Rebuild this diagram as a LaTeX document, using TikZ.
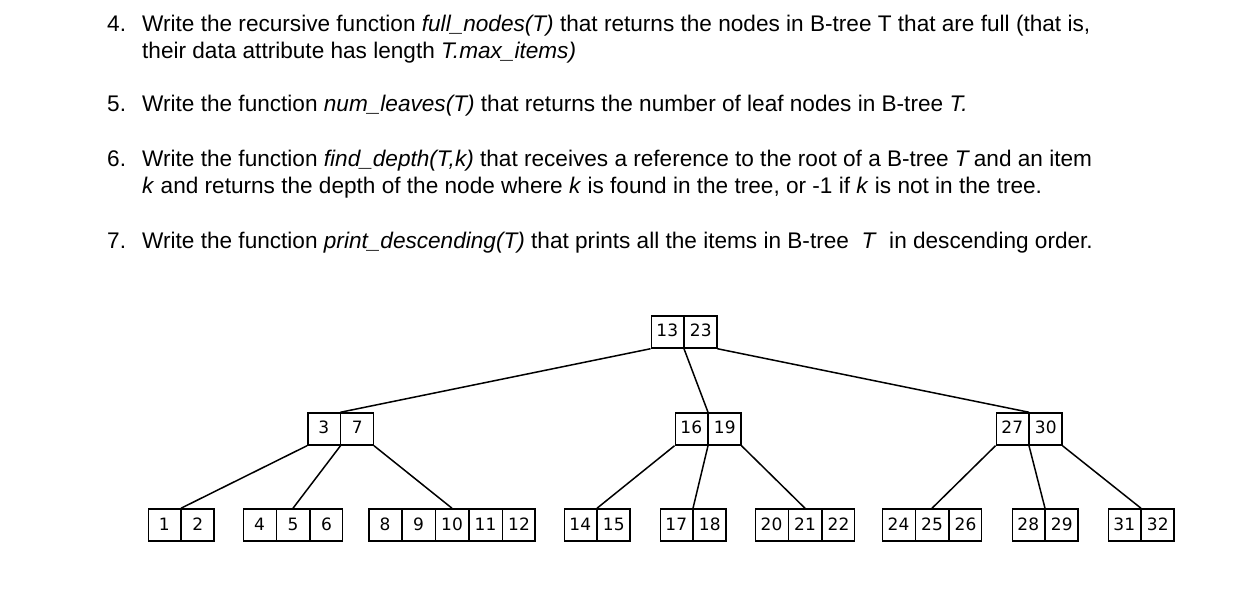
\documentclass[tikz,border=0pt]{standalone}
\usepackage{fontspec}
\setmainfont{Liberation Sans}
\newfontfamily\treefont{DejaVu Sans}
\usetikzlibrary{positioning,shapes.multipart}
\tikzset{bt/.style={rectangle split, rectangle split horizontal, draw=black, line width=1.5pt, inner xsep=0pt, inner ysep=0pt, minimum height=32pt, font=\treefont\fontsize{17}{17}\selectfont}}
\tikzset{txt/.style={anchor=base west, inner sep=0pt, font=\fontsize{22.6}{26}\selectfont}}
\tikzset{bline/.style={-, line width=1.5pt}}
\newcommand{\cell}[1]{\makebox[32pt]{\rule[-9pt]{0pt}{28pt}#1}}
\begin{document}
\begin{tikzpicture}[x=1pt,y=-1pt]
\useasboundingbox (0,0) rectangle (1245,601);
% questions
\node (q4n) [txt] at (107,32) {4.};
\node (q4) [txt] at (142,32) {Write the recursive function \textit{full\_nodes(T)} that returns the nodes in B-tree T that are full (that is,};
\node (q4b) [txt] at (142,59) {their data attribute has length \textit{T.max\_items)}};
\node (q5n) [txt] at (107,112) {5.};
\node (q5) [txt] at (142,112) {Write the function \textit{num\_leaves(T)} that returns the number of leaf nodes in B-tree \textit{T.}};
\node (q6n) [txt] at (107,167) {6.};
\node (q6) [txt] at (142,167) {Write the function \textit{find\_depth(T,k)} that receives a reference to the root of a B-tree \textit{T}\,and an item};
\node (q6b) [txt] at (142,194) {\textit{k} and returns the depth of the node where \textit{k} is found in the tree, or -1 if \textit{k} is not in the tree.};
\node (q7n) [txt] at (107,249) {7.};
\node (q7) [txt] at (142,249) {Write the function \textit{print\_descending(T)} that prints all the items in B-tree \ \textit{T} \ in descending order.};
% b-tree
\node (root) [bt, rectangle split parts=2] at (684,332) {\cell{13}\nodepart{two}\cell{23}};
\node (A) [bt, rectangle split parts=2] at (340.5,429) {\cell{3}\nodepart{two}\cell{7}};
\node (B) [bt, rectangle split parts=2] at (708,429) {\cell{16}\nodepart{two}\cell{19}};
\node (C) [bt, rectangle split parts=2] at (1029,429) {\cell{27}\nodepart{two}\cell{30}};
\node (L1) [bt, rectangle split parts=2] at (181,525) {\cell{1}\nodepart{two}\cell{2}};
\node (L2) [bt, rectangle split parts=3] at (293,525) {\cell{4}\nodepart{two}\cell{5}\nodepart{three}\cell{6}};
\node (L3) [bt, rectangle split parts=5] at (452,525) {\cell{8}\nodepart{two}\cell{9}\nodepart{three}\cell{10}\nodepart{four}\cell{11}\nodepart{five}\cell{12}};
\node (L4) [bt, rectangle split parts=2] at (597,525) {\cell{14}\nodepart{two}\cell{15}};
\node (L5) [bt, rectangle split parts=2] at (693,525) {\cell{17}\nodepart{two}\cell{18}};
\node (L6) [bt, rectangle split parts=3] at (805,525) {\cell{20}\nodepart{two}\cell{21}\nodepart{three}\cell{22}};
\node (L7) [bt, rectangle split parts=3] at (932,525) {\cell{24}\nodepart{two}\cell{25}\nodepart{three}\cell{26}};
\node (L8) [bt, rectangle split parts=2] at (1045,525) {\cell{28}\nodepart{two}\cell{29}};
\node (L9) [bt, rectangle split parts=2] at (1141,525) {\cell{31}\nodepart{two}\cell{32}};
\draw[bline] (root.south west) -- (A.north);
\draw[bline] (root.one split south) -- (B.north);
\draw[bline] (root.south east) -- (C.north);
\draw[bline] (A.south west) -- (L1.north);
\draw[bline] (A.one split south) -- (L2.north);
\draw[bline] (A.south east) -- (L3.north);
\draw[bline] (B.south west) -- (L4.north);
\draw[bline] (B.one split south) -- (L5.north);
\draw[bline] (B.south east) -- (L6.north);
\draw[bline] (C.south west) -- (L7.north);
\draw[bline] (C.one split south) -- (L8.north);
\draw[bline] (C.south east) -- (L9.north);
\end{tikzpicture}
\end{document}
